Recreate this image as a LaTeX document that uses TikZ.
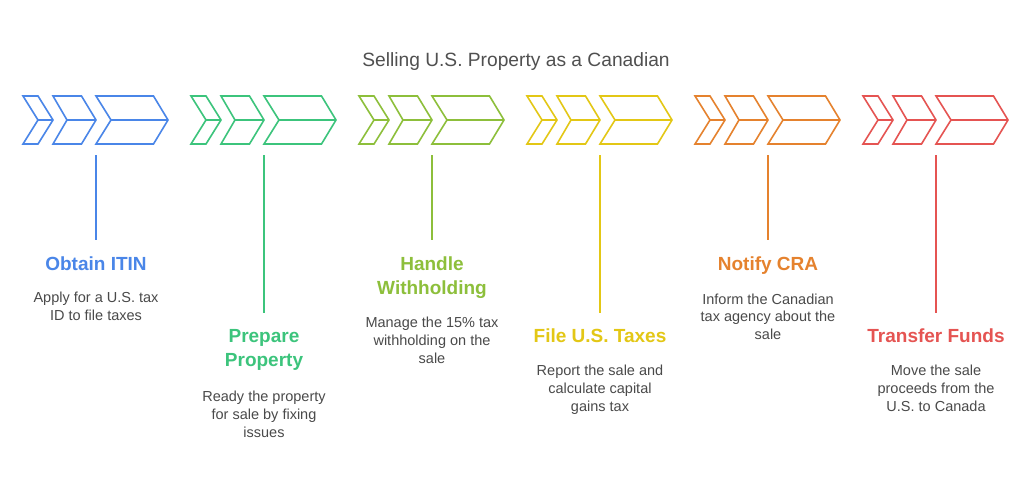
\documentclass[tikz,border=0pt]{standalone}
\usepackage{fontspec}
\setmainfont{Liberation Sans}
\definecolor{cBlue}{HTML}{4A86E8}
\definecolor{cGreen}{HTML}{3CC47C}
\definecolor{cLime}{HTML}{8DBF3B}
\definecolor{cYellow}{HTML}{E3C715}
\definecolor{cOrange}{HTML}{E5822E}
\definecolor{cRed}{HTML}{E55452}
\definecolor{descgray}{HTML}{4A4A4A}
\definecolor{titlegray}{HTML}{505050}
% #1 name, #2 x0, #3 colour, #4 line end y, #5 heading, #6 heading last baseline, #7 desc, #8 desc last baseline
\newcommand\stagegroup[8]{%
  \begin{scope}[xshift=#2]
    \draw[chevline=#3] (0,96) -- (15,96) -- (30,120) -- (15,144) -- (0,144) -- (15,120) -- cycle
      (15,120) -- (30,120);
    \draw[chevline=#3] (30,96) -- (58.5,96) -- (73,120) -- (58.5,144) -- (30,144) -- (44,120) -- cycle
      (44,120) -- (73,120);
    \draw[chevline=#3] (73,96) -- (130.5,96) -- (145,120) -- (130.5,144) -- (73,144) -- (88,120) -- cycle
      (88,120) -- (145,120);
    \coordinate (#1-top) at (73,155);
    \coordinate (#1-bot) at (73,#4);
    \draw[chevline=#3, line cap=butt] (#1-top) -- (#1-bot);
    \node[headtext, text=#3] (#1-head) at (73,#6) {#5};
    \node[desctext] (#1-desc) at (73,#8) {#7};
  \end{scope}
}
\begin{document}
\begin{tikzpicture}[x=1pt,y=-1pt,
  chevline/.style={draw=#1, line width=1.6pt},
  headtext/.style={font=\fontsize{19}{23.6}\selectfont\bfseries, align=center, inner sep=0pt, anchor=base},
  desctext/.style={font=\fontsize{14.5}{17.9}\selectfont, text=descgray, align=center, inner sep=0pt, anchor=base},
  titletext/.style={font=\fontsize{19.2}{22}\selectfont, text=titlegray, inner sep=0pt, anchor=base}]
\useasboundingbox (0,0) rectangle (1032,495);
\fill[white] (0,0) rectangle (1032,495);
\node[titletext] (title) at (516,66.5) {Selling U.S. Property as a Canadian};
\stagegroup{itin}{23}{cBlue}{240}{Obtain ITIN}{270.7}{Apply for a U.S. tax\\ID to file taxes}{320.6}
\stagegroup{prep}{191}{cGreen}{312.7}{Prepare\\Property}{366.3}{Ready the property\\for sale by fixing\\issues}{437.5}
\stagegroup{hold}{359}{cLime}{240}{Handle\\Withholding}{294.3}{Manage the 15\% tax\\withholding on the\\sale}{363.1}
\stagegroup{file}{527}{cYellow}{312.7}{File U.S. Taxes}{342.7}{Report the sale and\\calculate capital\\gains tax}{411.3}
\stagegroup{cra}{695}{cOrange}{240}{Notify CRA}{270.7}{Inform the Canadian\\tax agency about the\\sale}{339.8}
\stagegroup{fund}{863}{cRed}{312.7}{Transfer Funds}{342.7}{Move the sale\\proceeds from the\\U.S. to Canada}{411.3}
\end{tikzpicture}
\end{document}
